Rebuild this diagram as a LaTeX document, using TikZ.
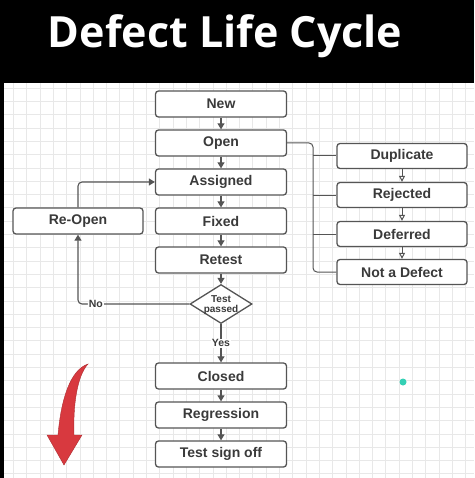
\documentclass[tikz,border=0pt]{standalone}
\usepackage{fontspec}
\setmainfont{Liberation Sans}
\newfontfamily\titlefont{Open Sans}
\usepackage{tikz}
\usetikzlibrary{arrows.meta,shapes.geometric}
\definecolor{boxline}{HTML}{555555}
\definecolor{boxtext}{HTML}{3A3A3A}
\definecolor{gridgray}{HTML}{E8E8E8}
\definecolor{arrowred}{HTML}{D8393F}
\definecolor{dotteal}{HTML}{35D0B5}
\tikzset{
  state/.style={draw=boxline, line width=1.3pt, rounded corners=3pt, fill=white,
    minimum width=131pt, minimum height=26pt, inner sep=0pt,
    text=boxtext, font=\fontsize{14}{15}\selectfont\bfseries},
  side/.style={state, minimum width=130pt, minimum height=25pt},
  flow/.style={draw=boxline, line width=1.1pt, -{Triangle[width=7pt,length=6pt]}},
  sideflow/.style={draw=boxline, line width=1pt, -{Triangle[open,width=6pt,length=6pt,fill=white]}},
  wire/.style={draw=boxline, line width=1pt},
  lbl/.style={fill=white, inner sep=1pt, text=boxtext, font=\fontsize{10.5}{11}\selectfont\bfseries}
}

\begin{document}
\begin{tikzpicture}[x=1pt,y=-1pt]
  \useasboundingbox (0,0) rectangle (474,478);
  \begin{scope}

% background, grid and title band
\fill[white] (0,83) rectangle (474,478);
\foreach \gx in {0,13.3,...,474} \draw[gridgray,line width=0.5pt] (\gx,83) -- (\gx,478);
\foreach \gy in {88,101.3,...,478} \draw[gridgray,line width=0.5pt] (0,\gy) -- (474,\gy);
\fill[black] (0,0) rectangle (474,83);
\fill[black] (0,83) rectangle (4,478);
\node[anchor=base, text=white, font=\titlefont\bfseries\fontsize{43}{46}\selectfont] (title) at (225,48) {Defect Life Cycle};

% main column
\node[state] (new) at (221,104) {New};
\node[state] (open) at (221,143) {Open};
\node[state] (assigned) at (221,182) {Assigned};
\node[state] (fixed) at (221,221) {Fixed};
\node[state] (retest) at (221,260) {Retest};
\node[diamond, draw=boxline, line width=1.3pt, fill=white, minimum width=62pt, minimum height=39pt, inner sep=0pt,
  label={[align=center, text=boxtext, font=\fontsize{10}{10}\selectfont\bfseries, yshift=-1pt]center:Test\\passed}] (test) at (221,304) {};
\node[state] (closed) at (221,376) {Closed};
\node[state] (regression) at (221,415) {Regression};
\node[state] (signoff) at (221,454) {Test sign off};

% side column
\node[side] (duplicate) at (402,156) {Duplicate};
\node[side] (rejected) at (402,195) {Rejected};
\node[side] (deferred) at (402,234) {Deferred};
\node[side] (notdefect) at (402,272) {Not a Defect};

\node[state, minimum width=130pt] (reopen) at (78,221) {Re-Open};

% connectors
\draw[flow] (new) -- (open);
\draw[flow] (open) -- (assigned);
\draw[flow] (assigned) -- (fixed);
\draw[flow] (fixed) -- (retest);
\draw[flow] (retest) -- (test);
\draw[flow] (test) -- node[lbl] {Yes} (closed);
\draw[flow] (closed) -- (regression);
\draw[flow] (regression) -- (signoff);

\coordinate (bus) at (313,200);
\draw[wire, rounded corners=4pt] (open.east) -| (bus) |- (notdefect.west);
\draw[wire] (duplicate.west -| bus) -- (duplicate.west);
\draw[wire] (rejected.west -| bus) -- (rejected.west);
\draw[wire] (deferred.west -| bus) -- (deferred.west);
\draw[sideflow] (duplicate) -- (rejected);
\draw[sideflow] (rejected) -- (deferred);
\draw[sideflow] (deferred) -- (notdefect);

\draw[flow, rounded corners=4pt] (reopen.north) |- (assigned.west);
\draw[flow, rounded corners=4pt] (test.west) -| node[lbl, pos=0.42] {No} (reopen.south);

% red arrow and dot
\fill[arrowred, draw=arrowred!80!black, line width=0.4pt]
  (88,364) .. controls (70,370) and (61,400) .. (58,435) -- (47,435) -- (64,465) -- (82,435) -- (74,435)
  .. controls (73,405) and (77,376) .. (88,364) -- cycle;
\fill[dotteal] (403,382) circle (3.5pt);
\end{scope}
\end{tikzpicture}
\end{document}
